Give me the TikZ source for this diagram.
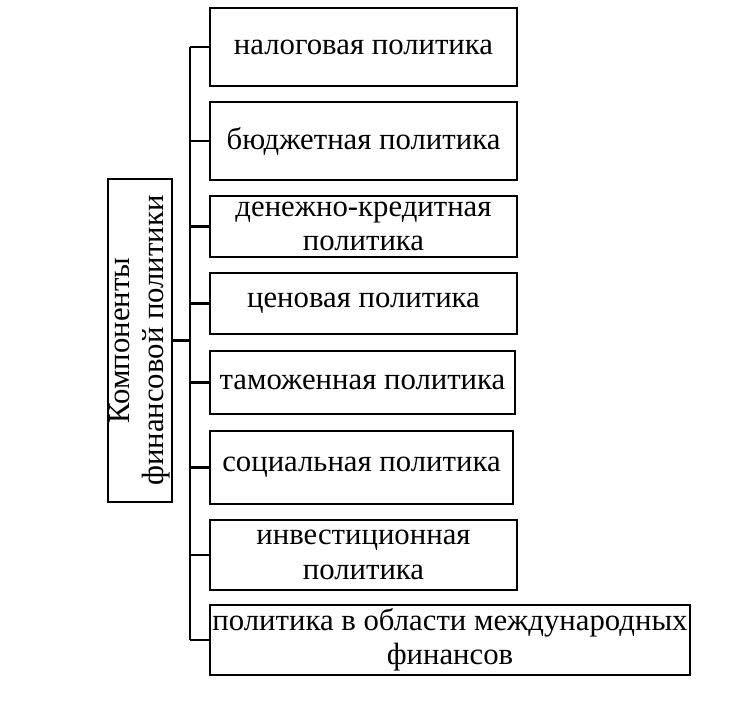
\documentclass[tikz,border=0pt]{standalone}
\usepackage{fontspec}
\setmainfont{Liberation Serif}

\begin{document}
\begin{tikzpicture}
        [x=0.02cm, y=-0.02cm, line width=1.6pt, every node/.style={draw, line width=1.6pt, inner sep=0, align=center, font=\fontsize{17.5}{19.5}\selectfont}, box/.style={minimum width=6.14cm}]

        \useasboundingbox (0, 0) rectangle (747, 715);

        \node[box, minimum height=1.56cm] (p1) at (363.5, 47) {налоговая политика};
        \node[box, minimum height=1.56cm] (p2) at (363.5, 141) {бюджетная политика};
        \node[box, minimum height=1.22cm] (p3) at (363.5, 226.5) {денежно-кредитная\\политика};
        \node[box, minimum height=1.22cm] (p4) at (363.5, 303.5) {ценовая политика};
        \node[box, minimum width=6.1cm, minimum height=1.26cm] (p5) at (362.5, 382.5) {таможенная политика};
        \node[box, minimum width=6.06cm, minimum height=1.46cm] (p6) at (361.5, 467.5) {социальная политика};
        \node[box, minimum height=1.4cm] (p7) at (363.5, 555) {инвестиционная\\политика};
        \node[minimum width=9.6cm, minimum height=1.4cm] (p8) at (450, 640) {политика в области международных\\финансов};
        \node[rotate=90, minimum width=6.46cm, minimum height=1.28cm] (comp) at (140, 340.5) {Компоненты\\финансовой политики};

        \coordinate (top) at (190, 47);
        \coordinate (bot) at (190, 640);

        \draw (top) -- (bot);
        \draw (comp.south) -- (comp.south -| top);
        \draw (p1.west) -- (p1.west -| top);
        \draw (p2.west) -- (p2.west -| top);
        \draw (p3.west) -- (p3.west -| top);
        \draw (p4.west) -- (p4.west -| top);
        \draw (p5.west) -- (p5.west -| top);
        \draw (p6.west) -- (p6.west -| top);
        \draw (p7.west) -- (p7.west -| top);
        \draw (p8.west) -- (p8.west -| top);

      \end{tikzpicture}
\end{document}
